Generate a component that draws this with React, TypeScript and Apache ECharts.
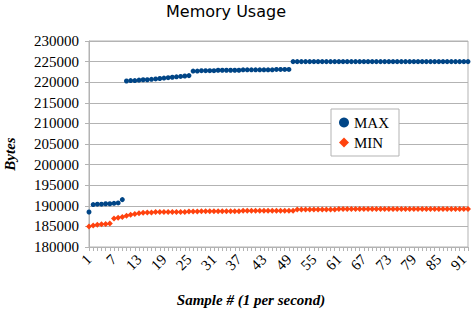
import React, { useEffect, useRef } from "react";
import * as echarts from "echarts";

const samples: string[] = Array.from({ length: 92 }, (_, i) => String(i + 1));

const maxBytes: number[] = [
  188500, 190300, 190400, 190400, 190500, 190500, 190600, 190700, 191500,
  220300, 220400, 220400, 220500, 220600, 220600, 220700, 220800, 220900, 221000,
  221100, 221200, 221300, 221400, 221500, 221600,
  222700, 222700, 222800, 222800, 222800, 222800, 222900, 222900, 222900, 222900,
  222900, 222900, 223000, 223000, 223000, 223000, 223000, 223000, 223000, 223000,
  223100, 223100, 223100, 223100,
  225000, 225000, 225000, 225000, 225000, 225000, 225000, 225000, 225000, 225000,
  225000, 225000, 225000, 225000, 225000, 225000, 225000, 225000, 225000, 225000,
  225000, 225000, 225000, 225000, 225000, 225000, 225000, 225000, 225000, 225000,
  225000, 225000, 225000, 225000, 225000, 225000, 225000, 225000, 225000, 225000,
  225000, 225000, 225000,
];

const minBytes: number[] = [
  185000, 185200, 185400, 185500, 185600, 185700, 186900, 187100, 187300, 187600,
  187800, 188000, 188200, 188300, 188400, 188400,
  188500, 188500, 188500, 188500, 188500, 188500, 188500, 188500, 188600, 188600, 188600,
  188700, 188700, 188700, 188700, 188700, 188700, 188700, 188700, 188700, 188700,
  188800, 188800, 188800, 188800, 188800, 188800, 188800, 188800, 188800, 188800,
  188800, 188800, 188800,
  189100, 189100, 189100, 189100, 189100, 189100, 189100, 189100, 189100, 189100,
  189200, 189200, 189200, 189200, 189200, 189200, 189200, 189200, 189200, 189200,
  189200, 189200, 189200, 189200, 189200, 189200, 189200, 189200, 189200, 189200,
  189200, 189200, 189200, 189200, 189200, 189200, 189200, 189200, 189200, 189200,
  189200, 189200,
];

const GREY = "#b3b3b3";
const SERIF = "'Liberation Serif', 'DejaVu Serif', serif";

export default function App() {
  const ref = useRef<HTMLDivElement>(null);
  useEffect(() => {
    if (!ref.current) return;
    const chart = echarts.init(ref.current, undefined, { renderer: "svg" });
    chart.setOption({
      animation: false,
      backgroundColor: "#ffffff",
      title: {
        text: "Memory Usage",
        left: 166,
        top: 3,
        padding: 0,
        textStyle: {
          fontFamily: "'DejaVu Sans', sans-serif",
          fontSize: 16,
          fontWeight: "normal",
          color: "#000000",
        },
      },
      grid: {
        left: 89,
        right: 6,
        top: 41,
        bottom: 64,
        show: true,
        borderColor: GREY,
        borderWidth: 1,
        containLabel: false,
        outerBoundsMode: "none",
      },
      legend: {
        orient: "vertical",
        left: 331,
        top: 109,
        padding: [5, 10, 5, 8],
        itemGap: 3,
        itemWidth: 10,
        itemHeight: 10,
        borderColor: GREY,
        borderWidth: 1,
        backgroundColor: "#ffffff",
        textStyle: { fontFamily: SERIF, fontSize: 15, color: "#000", lineHeight: 17 },
        data: [
          { name: "MAX", icon: "circle", itemStyle: { color: "#004586", opacity: 1 } },
          { name: "MIN", icon: "diamond", itemStyle: { color: "#ff420e", opacity: 1 } },
        ],
      },
      xAxis: {
        type: "category",
        data: samples,
        boundaryGap: false,
        axisLine: { lineStyle: { color: GREY } },
        axisTick: { show: true, interval: 0, length: 4, lineStyle: { color: GREY } },
        axisLabel: {
          interval: 5,
          rotate: 45,
          margin: 10,
          fontFamily: SERIF,
          fontSize: 15,
          color: "#000",
        },
        splitLine: { show: false },
      },
      yAxis: {
        type: "value",
        min: 180000,
        max: 230000,
        interval: 5000,
        axisLine: { show: true, lineStyle: { color: GREY } },
        axisTick: { show: true, length: 4, lineStyle: { color: GREY } },
        axisLabel: {
          margin: 10,
          fontFamily: SERIF,
          fontSize: 15,
          color: "#000",
          formatter: (v: number) => String(v),
        },
        splitLine: { show: true, lineStyle: { color: GREY, width: 1 } },
      },
      graphic: [
        {
          type: "text",
          x: 10,
          y: 154,
          rotation: Math.PI / 2,
          style: {
            text: "Bytes",
            fontFamily: SERIF,
            fontSize: 15,
            fontWeight: "bold",
            fontStyle: "italic",
            fill: "#000",
            align: "center",
            verticalAlign: "middle",
          },
        },
        {
          type: "text",
          x: 251,
          y: 300,
          style: {
            text: "Sample # (1 per second)",
            fontFamily: SERIF,
            fontSize: 15,
            fontWeight: "bold",
            fontStyle: "italic",
            fill: "#000",
            align: "center",
            verticalAlign: "middle",
          },
        },
      ],
      series: [
        {
          name: "MAX",
          type: "scatter",
          data: maxBytes,
          symbol: "circle",
          symbolSize: 5,
          itemStyle: { color: "#004586", opacity: 1 },
        },
        {
          name: "MIN",
          type: "scatter",
          data: minBytes,
          symbol: "diamond",
          symbolSize: 6,
          itemStyle: { color: "#ff420e", opacity: 1 },
        },
      ],
    });
    return () => chart.dispose();
  }, []);
  return (
    <div
      ref={ref}
      style={{ position: "fixed", left: 0, top: 0, width: 474, height: 311 }}
    />
  );
}
